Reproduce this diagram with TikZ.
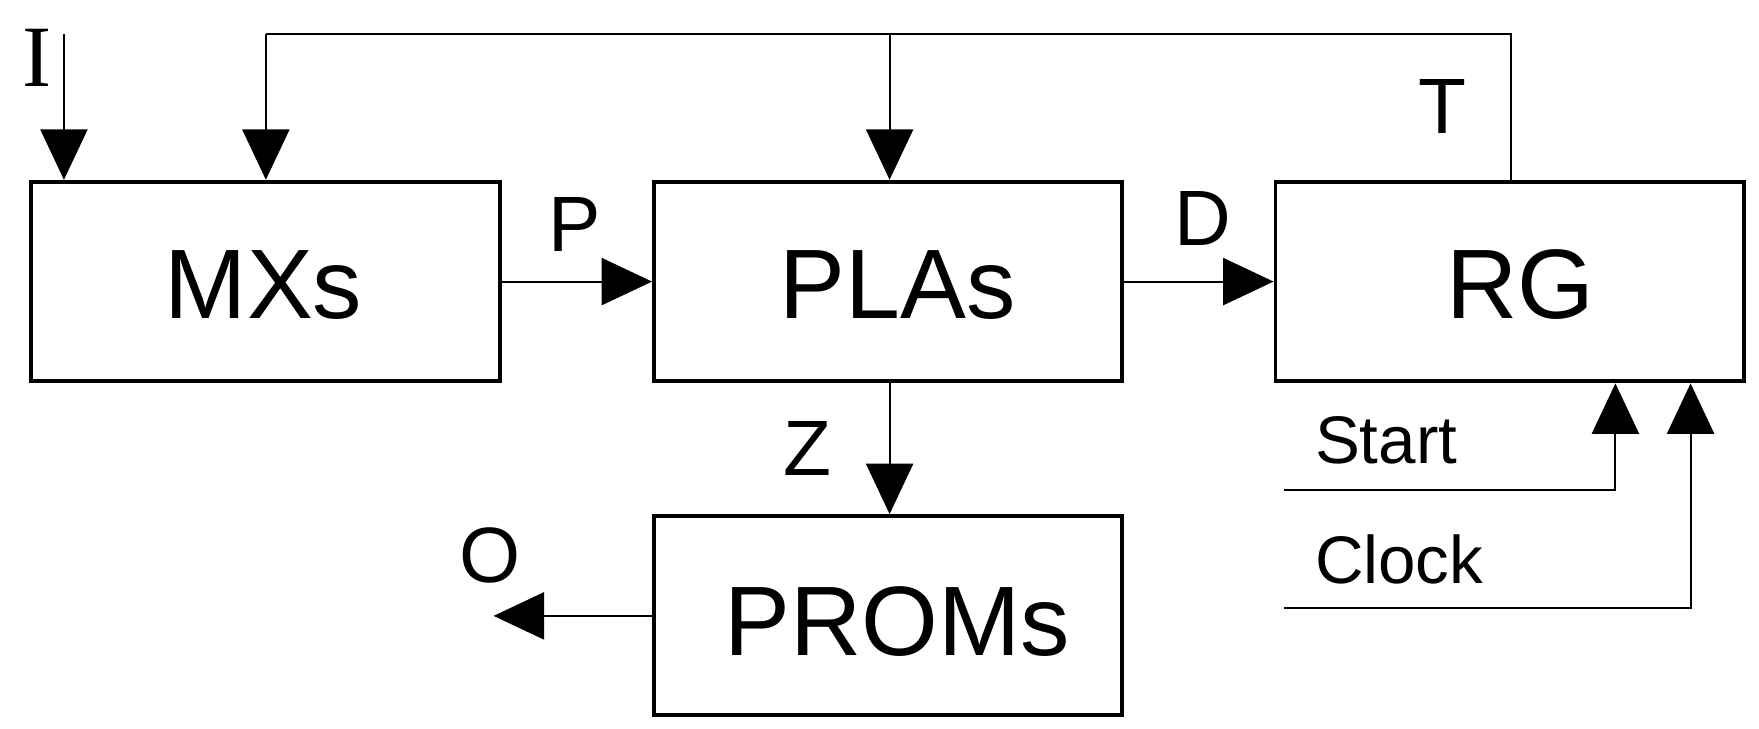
\documentclass[tikz,border=0pt]{standalone}
\usepackage{fontspec}
\setmainfont{Liberation Sans}
\newfontfamily\seriff{Liberation Serif}
\usetikzlibrary{arrows.meta}
\begin{document}
\begin{tikzpicture}[x=1pt,y=-1pt,
  box/.style={draw,line width=3.5pt,inner sep=0pt},
  con/.style={line width=1.8pt,-{Triangle[length=45pt,width=42pt]}},
  ln/.style={line width=1.8pt},
  big/.style={font=\fontsize{88}{88}\selectfont},
  lab/.style={font=\fontsize{70}{70}\selectfont},
  sm/.style={font=\fontsize{60}{60}\selectfont}]
\useasboundingbox (0,0) rectangle (1568,649);
\node[box,minimum width=418pt,minimum height=178pt] (mx) at (237,251) {};
\node[box,minimum width=417pt,minimum height=178pt] (pla) at (791.5,251) {};
\node[box,minimum width=418pt,minimum height=178pt] (rg) at (1346,251) {};
\node[box,minimum width=417pt,minimum height=177pt] (prom) at (791.5,548.5) {};
\node[big] at (235,254) {MXs};
\node[big] at (800,254) {PLAs};
\node[big] at (1355,254) {RG};
\node[big] at (800,554) {PROMs};
\coordinate (i0) at (57,30);
\coordinate (f1) at (1347,30);
\coordinate (f2) at (237,30);
\coordinate (f3) at (793,30);
\coordinate (o) at (440,549);
\coordinate (s0) at (1145,437);
\coordinate (s1) at (1440,437);
\coordinate (c0) at (1145,542);
\coordinate (c1) at (1507,542);
\draw[con] (i0) -- (i0 |- mx.north);
\draw[ln] (rg.north -| f1) -- (f1) -- (f2);
\draw[con] (f2) -- (mx.north -| f2);
\draw[con] (f3) -- (pla.north -| f3);
\draw[con] (mx.east) -- (pla.west);
\draw[con] (pla.east) -- (rg.west);
\draw[con] (pla.south -| f3) -- (prom.north -| f3);
\draw[con] (prom.west |- o) -- (o);
\draw[con] (s0) -- (s1) -- (rg.south -| s1);
\draw[con] (c0) -- (c1) -- (rg.south -| c1);
\node[font=\fontsize{78}{78}\selectfont\seriff] at (33,52) {I};
\node[lab] at (512,200) {P};
\node[lab] at (1072,195) {D};
\node[lab] at (1286,95) {T};
\node[lab] at (720,400) {Z};
\node[lab] at (437,495) {O};
\node[sm,anchor=base west,inner sep=0pt] at (1172,413) {Start};
\node[sm,anchor=base west,inner sep=0pt] at (1172,520) {Clock};
\end{tikzpicture}
\end{document}
